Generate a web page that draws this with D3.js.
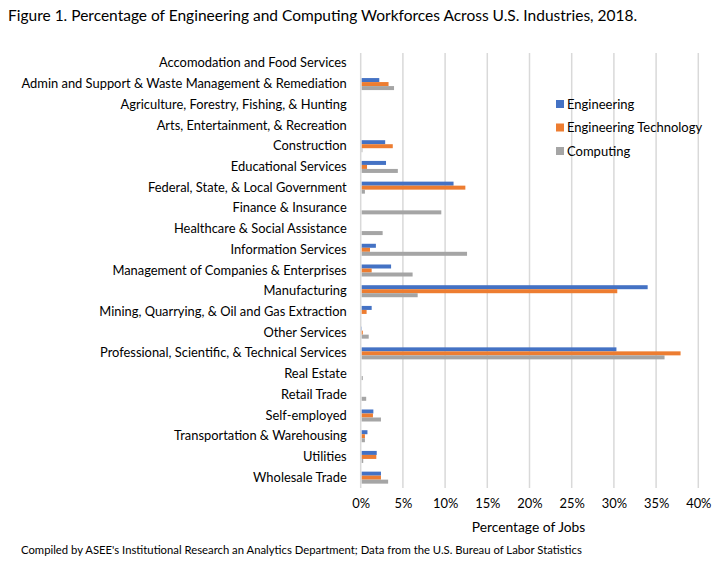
<!DOCTYPE html>
<html><head><meta charset="utf-8">
<script src="https://cdn.jsdelivr.net/npm/d3@7"></script>
<style>body{margin:0;background:#fff;} text{font-family:Lato,"Open Sans",sans-serif;}</style>
</head><body>
<svg id="chart" width="720" height="570"></svg>
<script>
const categories = ["Accomodation and Food Services","Admin and Support & Waste Management & Remediation","Agriculture, Forestry, Fishing, & Hunting","Arts, Entertainment, & Recreation","Construction","Educational Services","Federal, State, & Local Government","Finance & Insurance","Healthcare & Social Assistance","Information Services","Management of Companies & Enterprises","Manufacturing","Mining, Quarrying, & Oil and Gas Extraction","Other Services","Professional, Scientific, & Technical Services","Real Estate","Retail Trade","Self-employed","Transportation & Warehousing","Utilities","Wholesale Trade"];
const engineering = [0,2.2,0,0,2.9,3.0,11.0,0.05,0.05,1.8,3.6,34.0,1.3,0.15,30.3,0,0,1.5,0.8,1.9,2.4];
const engineeringTech = [0,3.3,0,0,3.8,0.75,12.4,0,0,1.1,1.3,30.4,0.7,0.25,37.9,0.1,0,1.45,0.5,1.85,2.4];
const computing = [0,3.95,0.1,0.1,0.2,4.4,0.5,9.55,2.6,12.6,6.15,6.75,0.1,0.95,36.0,0.25,0.65,2.4,0.5,0.3,3.25];
const seriesNames = ["Engineering","Engineering Technology","Computing"];
const colors = ["#4472c4","#ed7d31","#a5a5a5"];
const xTicks = [0,5,10,15,20,25,30,35,40];

const svg = d3.select("#chart");
const m = {left:360.7, right:698.3, top:53, bottom:488};
const x = d3.scaleLinear().domain([0,40]).range([m.left,m.right]);
const y = d3.scaleBand().domain(categories).range([m.top,m.bottom]).paddingInner(0.42).paddingOuter(0.21);
const y1 = d3.scaleBand().domain(seriesNames).range([0,y.bandwidth()]);

svg.append("text").attr("x",8).attr("y",21).attr("font-size",15.5).attr("fill","#000")
  .text("Figure 1. Percentage of Engineering and Computing Workforces Across U.S. Industries, 2018.");

// gridlines
svg.append("g").selectAll("line").data(xTicks).join("line")
  .attr("x1",d=>x(d)).attr("x2",d=>x(d)).attr("y1",m.top).attr("y2",m.bottom)
  .attr("stroke","#d9d9d9").attr("stroke-width",1.5);

const series = [engineering, engineeringTech, computing];
const g = svg.append("g");
series.forEach((vals,si)=>{
  g.append("g").selectAll("rect").data(categories).join("rect")
    .attr("x",x(0)+1).attr("y",(c)=>y(c)+y1(seriesNames[si]))
    .attr("width",(c,i)=>Math.max(0,x(vals[i])-x(0)-1))
    .attr("height",y1.bandwidth())
    .attr("fill",colors[si]);
});

// y axis labels
const yAxis = d3.axisLeft(y).tickSize(0).tickPadding(14);
const ya = svg.append("g").attr("transform",`translate(${m.left},0)`).call(yAxis);
ya.select(".domain").remove();
ya.selectAll("text").attr("font-size",12.9).attr("fill","#000").style("font-family","Lato,'Open Sans',sans-serif");

// x axis
const xAxis = d3.axisBottom(x).tickValues(xTicks).tickFormat(d=>d+"%").tickSize(0).tickPadding(11);
const xa = svg.append("g").attr("transform",`translate(0,${m.bottom})`).call(xAxis);
xa.select(".domain").remove();
xa.selectAll("text").attr("font-size",12.9).attr("fill","#000").style("font-family","Lato,'Open Sans',sans-serif");

svg.append("text").attr("x",(m.left+m.right)/2 - 1).attr("y",532).attr("text-anchor","middle")
  .attr("font-size",13.8).attr("fill","#000").text("Percentage of Jobs");

// legend
const lg = svg.append("g");
seriesNames.forEach((n,i)=>{
  lg.append("rect").attr("x",556).attr("y",100+i*23.5).attr("width",8).attr("height",8).attr("fill",colors[i]);
  lg.append("text").attr("x",567).attr("y",108.5+i*23.5).attr("font-size",13).attr("fill","#000").text(n);
});

svg.append("text").attr("x",21).attr("y",554).attr("font-size",11.3).attr("fill","#000")
  .text("Compiled by ASEE's Institutional Research an Analytics Department; Data from the U.S. Bureau of Labor Statistics");
</script>
</body></html>
